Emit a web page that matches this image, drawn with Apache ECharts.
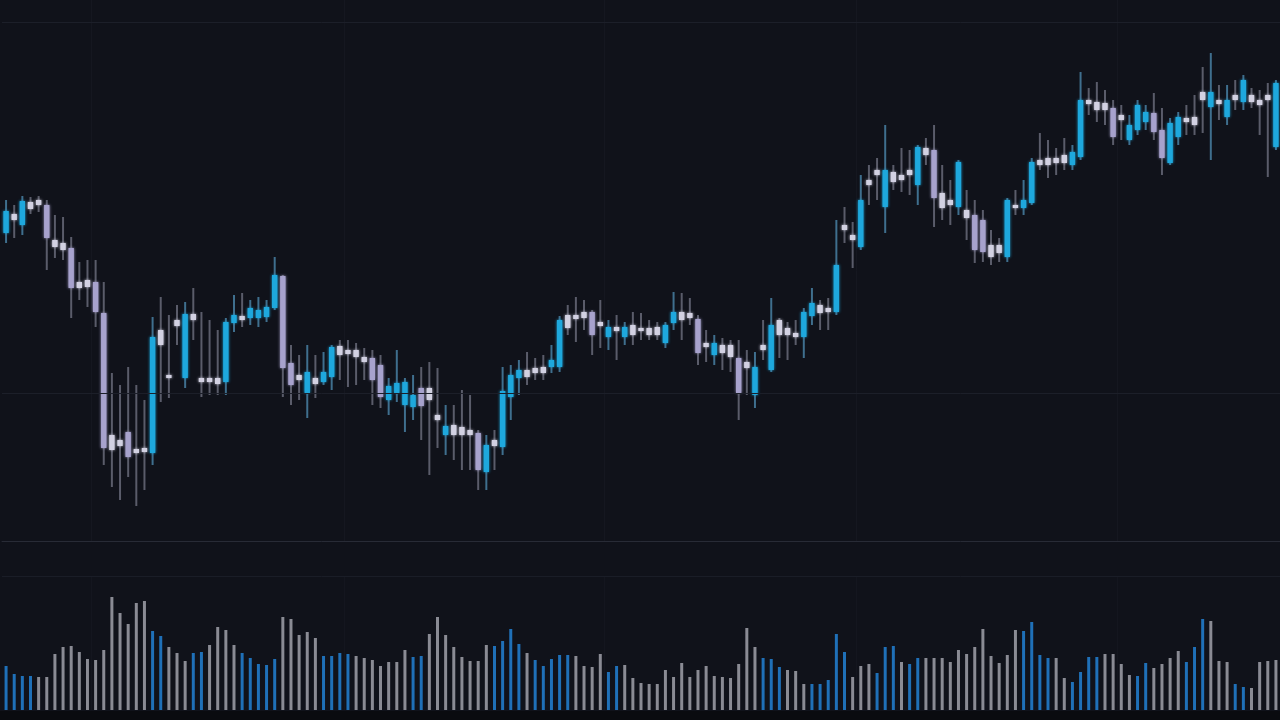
<!DOCTYPE html>
<html>
<head>
<meta charset="utf-8">
<style>
html,body{margin:0;padding:0;background:#10121a;}
#chart{width:1280px;height:720px;}
</style>
<script src="https://cdn.jsdelivr.net/npm/echarts@6/dist/echarts.min.js"></script>
</head>
<body>
<div id="chart"></div>
<script>
// ---- data (price units; volume units) ----
const openP = [367,386,375,398,400,395,360,357,352,318,
320,318,287,165,160,168,151,152,147,270,
225,280,222,286,222,222,222,218,277,284,
282,282,283,292,324,237,225,207,222,218,
223,254,250,250,243,242,235,200,207,195,
193,212,212,185,165,175,173,170,167,128,
160,153,203,222,230,232,233,233,233,285,
285,288,288,278,263,273,263,275,272,272,
273,257,277,288,287,281,257,245,255,255,
242,238,205,255,230,280,272,267,263,284,
295,292,288,375,365,353,420,430,393,428,
425,430,415,452,450,407,400,393,390,385,
380,355,355,343,395,392,397,440,442,442,
445,435,443,500,498,497,492,485,460,470,
478,487,470,437,463,482,483,508,493,500,
483,505,498,505,500,505,453];
const closeP = [389,380,399,391,395,362,353,350,312,312,
313,288,152,150,154,143,147,148,263,255,
222,274,286,280,218,218,216,278,285,280,
292,290,293,325,232,215,220,228,216,228,
253,245,246,243,238,220,203,214,217,218,
205,194,200,180,174,165,165,165,130,155,
154,209,225,230,223,227,227,240,280,272,
281,282,265,274,273,269,273,265,269,265,
265,275,288,280,282,247,253,257,247,243,
207,232,233,250,275,265,265,263,288,297,
287,288,335,370,360,400,415,425,430,418,
420,425,453,445,402,392,395,438,382,350,
348,343,347,400,392,400,438,435,435,437,
437,448,500,496,490,490,463,480,475,495,
488,468,442,477,483,478,475,500,508,496,
500,500,520,498,495,500,517];
const lowP = [357,362,365,386,388,330,342,340,282,300,
293,273,135,113,100,123,94,110,135,198,
202,255,212,260,203,205,205,205,268,273,
275,273,278,290,203,195,200,182,202,215,
210,220,213,215,220,195,192,185,198,168,
180,160,125,152,145,140,130,130,110,110,
130,145,180,205,215,220,220,227,228,265,
258,270,245,252,250,240,255,255,260,260,
260,252,270,260,275,235,238,235,230,228,
180,205,192,240,228,242,240,255,242,275,
270,270,285,357,332,350,395,400,367,410,
408,405,395,435,373,380,375,385,360,337,
338,335,338,338,385,385,395,430,422,425,
430,430,440,485,478,475,455,460,455,465,
470,460,425,435,455,465,465,467,440,480,
475,490,490,492,465,423,450];
const highP = [400,395,404,403,404,400,385,383,363,338,
340,340,318,227,215,233,215,200,283,303,
285,295,298,312,288,280,270,282,305,307,
300,303,300,343,325,255,245,255,245,248,
255,260,260,257,252,250,245,222,250,222,
225,233,238,232,195,195,210,205,170,165,
170,233,235,240,248,242,245,255,284,295,
303,300,290,300,280,285,278,288,287,280,
278,278,308,307,302,285,270,265,262,260,
260,250,248,280,302,282,278,280,292,312,
300,302,380,393,378,425,435,442,475,435,
452,450,455,462,475,435,420,440,410,400,
390,370,362,402,410,420,442,467,460,452,
462,455,528,512,518,510,500,495,485,500,
495,507,492,482,488,495,505,533,547,515,
515,520,525,512,510,517,520];
const volume = [44,36,34,34,33,33,56,63,64,58,
51,50,60,113,97,86,107,109,79,74,
63,57,49,57,58,65,83,80,65,57,
52,46,45,51,93,91,75,78,72,54,
54,57,56,54,52,50,44,48,48,60,
53,54,76,93,75,63,53,49,49,65,
64,69,81,66,57,50,44,51,55,55,
54,44,43,56,38,44,45,32,27,26,
26,40,33,47,33,40,44,34,33,32,
46,82,63,52,51,43,40,39,26,26,
26,30,76,58,33,44,46,37,63,64,
48,46,52,52,52,52,48,60,56,63,
81,54,47,55,80,79,88,55,52,52,
32,28,38,53,53,56,56,46,35,34,
47,42,46,52,59,48,63,91,89,49,
48,26,23,22,48,49,50];
// 1 = buying volume (blue), 0 = selling volume (grey)
const volumeUp = [1,1,1,1,0,0,0,0,0,0,
0,0,0,0,0,0,0,0,1,1,
0,0,0,1,1,0,0,0,0,1,
1,1,1,1,0,0,0,0,0,1,
1,1,1,0,0,0,0,0,0,0,
1,1,0,0,0,0,0,0,0,0,
1,1,1,1,0,1,1,1,1,1,
0,0,0,0,1,1,0,0,0,0,
0,0,0,0,0,0,0,0,0,0,
0,0,0,1,1,1,0,0,0,1,
1,1,1,1,0,0,0,1,1,1,
0,1,1,0,0,0,0,0,0,0,
0,0,0,0,0,1,1,1,1,0,
0,1,1,1,1,0,0,0,0,1,
1,0,0,0,0,1,1,1,0,0,
0,1,1,0,0,0,0];
const categories = openP.map((_, i) => 'T' + (i + 1));

// ---- build ----
const candleData = categories.map((_, i) => [i, openP[i], closeP[i], lowP[i], highP[i]]);
const volData = volume.map((v, i) => ({
  value: v,
  itemStyle: { color: volumeUp[i] ? '#1f70b8' : '#8a8b94' }
}));
const vGridIdx = [11, 42, 74, 105, 137];

const chart = echarts.init(document.getElementById('chart'), null, { renderer: 'canvas' });
chart.setOption({
  backgroundColor: '#10121a',
  animation: false,
  graphic: [{
    type: 'rect', z: -1, silent: true,
    shape: { x: 0, y: 711, width: 1280, height: 9 },
    style: { fill: '#0a0b0f' }
  }],
  grid: [
    { left: 2, right: 0, top: 0, bottom: 179 },
    { left: 2, right: 0, top: 576, bottom: 10 }
  ],
  xAxis: [
    {
      type: 'category', data: categories, gridIndex: 0, boundaryGap: true,
      axisLine: { show: true, lineStyle: { color: '#282b36', width: 1 } },
      axisTick: { show: false }, axisLabel: { show: false },
      splitLine: {
        show: true,
        interval: function (idx) { return vGridIdx.indexOf(idx) >= 0; },
        lineStyle: { color: '#151720', width: 1 }
      }
    },
    {
      type: 'category', data: categories, gridIndex: 1, boundaryGap: true,
      axisLine: { show: false }, axisTick: { show: false }, axisLabel: { show: false },
      splitLine: {
        show: true,
        interval: function (idx) { return vGridIdx.indexOf(idx) >= 0; },
        lineStyle: { color: '#14161f', width: 1 }
      }
    }
  ],
  yAxis: [
    {
      type: 'value', gridIndex: 0, min: 59, max: 600, scale: true,
      axisLine: { show: false }, axisTick: { show: false }, axisLabel: { show: false },
      splitLine: { show: false }
    },
    {
      type: 'value', gridIndex: 1, min: 0, max: 134,
      axisLine: { show: false }, axisTick: { show: false }, axisLabel: { show: false },
      splitLine: { show: false }
    }
  ],
  series: [
    {
      type: 'custom',
      name: 'Price',
      xAxisIndex: 0, yAxisIndex: 0,
      data: candleData,
      encode: { x: 0, y: [1, 2, 3, 4] },
      renderItem: function (params, api) {
        const i = api.value(0);
        const o = api.value(1), c = api.value(2), l = api.value(3), h = api.value(4);
        const pO = api.coord([i, o]);
        const pC = api.coord([i, c]);
        const pL = api.coord([i, l]);
        const pH = api.coord([i, h]);
        const w = api.size([1, 0])[0] * 0.66;
        const up = c >= o;
        const big = Math.abs(c - o) >= 18;
        const fill = up ? '#1ea8dd' : (big ? '#a7a2cd' : '#d2d1e2');
        const wick = up ? '#3f6f8e' : '#5a5c6a';
        const top = Math.min(pO[1], pC[1]);
        const bh = Math.max(Math.abs(pO[1] - pC[1]), 2.5);
        return {
          type: 'group',
          children: [
            { type: 'rect', shape: { x: pH[0] - 1, y: pH[1], width: 2, height: pL[1] - pH[1] },
              style: { fill: wick } },
            { type: 'rect', shape: { x: pO[0] - w / 2, y: top, width: w, height: bh },
              style: { fill: fill, shadowBlur: 3, shadowColor: fill } }
          ]
        };
      },
      markLine: {
        silent: true, symbol: 'none', label: { show: false },
        lineStyle: { color: '#1c1f29', width: 1, type: 'solid' },
        data: [{ yAxis: 207 }, { yAxis: 578 }]
      }
    },
    {
      type: 'bar',
      name: 'Volume',
      xAxisIndex: 1, yAxisIndex: 1,
      barWidth: 3,
      data: volData,
      markLine: {
        silent: true, symbol: 'none', label: { show: false },
        lineStyle: { color: '#1a1d27', width: 1, type: 'solid' },
        data: [{ yAxis: 134 }]
      }
    }
  ]
});
</script>
</body>
</html>
